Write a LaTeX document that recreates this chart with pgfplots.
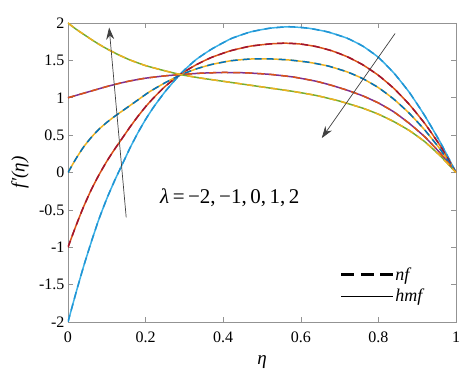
\documentclass[border=0pt]{standalone}
\usepackage{pgfplots}
\pgfplotsset{compat=1.18}
\usepackage{fontspec}
\setmainfont{Liberation Serif}
\usetikzlibrary{arrows.meta}
\definecolor{mblue}{HTML}{0072BD}
\definecolor{morange}{HTML}{D95319}
\definecolor{myellow}{HTML}{EDB120}
\definecolor{mpurple}{HTML}{7E2F8E}
\definecolor{mgreen}{HTML}{77AC30}
\definecolor{mlblue}{HTML}{3AB0E6}
\definecolor{mdred}{HTML}{A2142F}

\pgfplotstableread{
x y
0 -2
0.02 -1.62
0.04 -1.26
0.06 -0.93
0.08 -0.62
0.10 -0.35
0.12 -0.11
0.14 0.11
0.16 0.33
0.18 0.53
0.20 0.71
0.22 0.87
0.25 1.08
0.29 1.32
0.33 1.51
0.37 1.65
0.42 1.79
0.47 1.88
0.52 1.93
0.57 1.95
0.62 1.93
0.67 1.88
0.72 1.795
0.76 1.69
0.80 1.54
0.84 1.33
0.88 1.07
0.92 0.755
0.96 0.40
1 0
}\lamA

\pgfplotstableread{
x y
0 -1
0.02 -0.72
0.04 -0.46
0.06 -0.23
0.08 -0.03
0.10 0.15
0.12 0.31
0.14 0.46
0.16 0.61
0.18 0.75
0.20 0.88
0.22 0.995
0.25 1.15
0.29 1.315
0.33 1.44
0.37 1.54
0.42 1.63
0.47 1.69
0.52 1.72
0.56 1.73
0.60 1.718
0.64 1.684
0.68 1.628
0.72 1.548
0.76 1.44
0.80 1.30
0.84 1.124
0.88 0.908
0.92 0.652
0.96 0.352
1 0
}\lamB

\pgfplotstableread{
x y
0 0
0.02 0.18
0.04 0.34
0.06 0.47
0.08 0.58
0.10 0.67
0.12 0.75
0.15 0.86
0.18 0.97
0.21 1.08
0.25 1.20
0.29 1.305
0.33 1.385
0.37 1.445
0.42 1.495
0.47 1.518
0.52 1.52
0.57 1.505
0.62 1.475
0.67 1.425
0.72 1.345
0.76 1.255
0.80 1.135
0.84 0.98
0.88 0.79
0.92 0.565
0.96 0.305
1 0
}\lamC

\pgfplotstableread{
x y
0 1
0.02 1.03
0.04 1.06
0.06 1.09
0.08 1.12
0.10 1.15
0.13 1.19
0.16 1.225
0.20 1.262
0.25 1.293
0.29 1.31
0.34 1.328
0.40 1.338
0.46 1.333
0.52 1.313
0.58 1.278
0.64 1.22
0.68 1.165
0.72 1.10
0.76 1.025
0.80 0.93
0.84 0.81
0.88 0.655
0.92 0.475
0.96 0.255
1 0
}\lamD

\pgfplotstableread{
x y
0 2
0.02 1.92
0.04 1.85
0.06 1.78
0.08 1.715
0.10 1.655
0.13 1.575
0.16 1.505
0.20 1.43
0.25 1.36
0.29 1.31
0.34 1.265
0.40 1.22
0.46 1.175
0.52 1.13
0.58 1.085
0.64 1.03
0.70 0.955
0.76 0.86
0.80 0.78
0.84 0.68
0.88 0.56
0.92 0.41
0.96 0.22
1 0
}\lamE

\begin{document}
\begin{tikzpicture}
\useasboundingbox (-68pt,-58pt) rectangle (406pt,322pt);
\begin{axis}[
  scale only axis, width=388pt, height=299pt,
  xmin=0, xmax=1, ymin=-2, ymax=2,
  xtick={0,0.2,0.4,0.6,0.8,1},
  ytick={-2,-1.5,-1,-0.5,0,0.5,1,1.5,2},
  tick align=inside, major tick length=5pt,
  xtick pos=both, ytick pos=both,
  axis line style={gray!85, line width=0.6pt},
  tick style={gray!85, line width=0.6pt},
  /pgf/number format/assume math mode=true,
  tick label style={font=\fontsize{16}{18}\selectfont},
  xticklabel style={yshift=-6pt},
  xlabel={\itshape η},
  xlabel style={at={(axis description cs:0.5,-0.134)}, anchor=center, font=\fontsize{19}{21}\selectfont},
  ylabel={\itshape f\kern1pt′\kern-0.5pt(η)},
  ylabel style={at={(axis description cs:-0.124,0.5)}, anchor=center, font=\fontsize{19}{21}\selectfont},
  legend style={draw=none, fill=none, at={(axis cs:0.700,-1.26)}, anchor=north west,
    font=\fontsize{18}{20}\selectfont\itshape, row sep=5pt, inner sep=0pt,
    nodes={inner xsep=0.5pt, inner ysep=1pt}},
  legend cell align=left,
  legend image code/.code={\draw[#1] (0pt,0pt) -- (52pt,0pt);},
  every axis plot/.append style={line width=1.5pt, smooth, tension=0.3},
]
% hmf (solid)
\addplot[mlblue, forget plot] table {\lamA};
\addplot[morange, forget plot] table {\lamB};
\addplot[myellow, forget plot] table {\lamC};
\addplot[mpurple, forget plot] table {\lamD};
\addplot[mgreen, forget plot] table {\lamE};
% nf (dashed)
\addplot[mblue!45!mlblue, dash pattern=on 7pt off 5pt, forget plot] table {\lamA};
\addplot[mdred, dash pattern=on 7pt off 5pt, forget plot] table {\lamB};
\addplot[mblue, dash pattern=on 7pt off 5pt, forget plot] table {\lamC};
\addplot[morange, dash pattern=on 7pt off 5pt, forget plot] table {\lamD};
\addplot[myellow, dash pattern=on 7pt off 5pt, forget plot] table {\lamE};

\addlegendimage{black, line width=3pt, dash pattern=on 13pt off 6.5pt}
\addlegendentry{nf}
\addlegendimage{black, line width=1pt}
\addlegendentry{hmf}

\draw[black!75, line width=0.7pt, -{Stealth[length=12pt, width=8pt]}] (axis cs:0.150,-0.60) -- (axis cs:0.106,1.94);
\draw[black!75, line width=0.7pt, -{Stealth[length=12pt, width=8pt]}] (axis cs:0.843,1.86) -- (axis cs:0.654,0.46);
\node[anchor=west, font=\fontsize{21}{23}\selectfont, inner sep=0pt] at (axis cs:0.237,-0.34) {\textit{λ}\,=\,−2,\,−1,\,0,\,1,\,2};
\end{axis}
\end{tikzpicture}
\end{document}
